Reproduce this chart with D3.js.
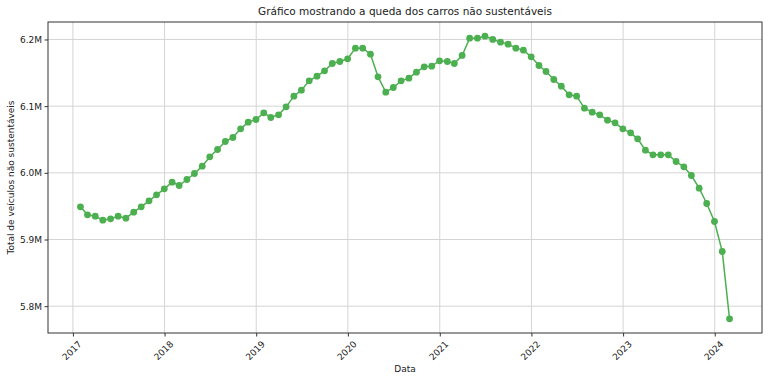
<!DOCTYPE html>
<html>
<head>
<meta charset="utf-8">
<script src="https://cdn.jsdelivr.net/npm/d3@7"></script>
<style>
  body { margin: 0; background: #fff; }
  svg text { font-family: "DejaVu Sans", sans-serif; fill: #222; }
</style>
</head>
<body>
<svg id="chart" width="768" height="381"></svg>
<script>
// monthly totals (millions), month-end dates Jan 2017 .. Feb 2024
const totals = [
  5.949, 5.937, 5.935, 5.929, 5.931, 5.935, 5.932, 5.941, 5.949, 5.958, 5.967, 5.976,
  5.986, 5.981, 5.990, 5.999, 6.010, 6.024, 6.035, 6.047, 6.053, 6.066, 6.076, 6.080,
  6.090, 6.083, 6.087, 6.099, 6.115, 6.124, 6.138, 6.145, 6.153, 6.164, 6.167, 6.171,
  6.187, 6.187, 6.178, 6.144, 6.121, 6.128, 6.138, 6.142, 6.151, 6.159, 6.160, 6.168,
  6.167, 6.164, 6.176, 6.202, 6.202, 6.205, 6.200, 6.196, 6.193, 6.187, 6.184, 6.174,
  6.161, 6.152, 6.140, 6.130, 6.117, 6.115, 6.097, 6.091, 6.087, 6.079, 6.075, 6.066,
  6.060, 6.051, 6.034, 6.027, 6.027, 6.027, 6.017, 6.009, 5.996, 5.977, 5.954, 5.927,
  5.882, 5.781
];
const yTicks = [5.8, 5.9, 6.0, 6.1, 6.2];
const xTickYears = [2017, 2018, 2019, 2020, 2021, 2022, 2023, 2024];

// month end dates
const data = totals.map((v, i) => ({
  date: new Date(2017, i + 1, 0),
  value: v
}));

const mLeft = 48, mRight = 762, mTop = 22, mBottom = 333;

const ext = d3.extent(data, d => d.date);
const span = ext[1] - ext[0];
const xScale = d3.scaleTime()
  .domain([new Date(+ext[0] - span * 0.05), new Date(+ext[1] + span * 0.05)])
  .range([mLeft, mRight]);
const yExt = d3.extent(data, d => d.value);
const ySpan = yExt[1] - yExt[0];
const yScale = d3.scaleLinear()
  .domain([yExt[0] - ySpan * 0.05, yExt[1] + ySpan * 0.05])
  .range([mBottom, mTop]);

const svg = d3.select('#chart');

// grid
const xTicks = xTickYears.map(y => new Date(y, 0, 1));
svg.append('g').selectAll('line').data(xTicks).join('line')
  .attr('x1', d => xScale(d)).attr('x2', d => xScale(d))
  .attr('y1', mTop).attr('y2', mBottom)
  .attr('stroke', '#d4d4d4').attr('stroke-width', 1);
svg.append('g').selectAll('line').data(yTicks).join('line')
  .attr('x1', mLeft).attr('x2', mRight)
  .attr('y1', d => yScale(d)).attr('y2', d => yScale(d))
  .attr('stroke', '#d4d4d4').attr('stroke-width', 1);

// axes
const xAxis = d3.axisBottom(xScale).tickValues(xTicks).tickSize(3.5).tickFormat(d3.timeFormat('%Y'));
const yAxis = d3.axisLeft(yScale).tickValues(yTicks).tickSize(3.5).tickFormat(d => d.toFixed(1) + 'M');

const gx = svg.append('g').attr('transform', `translate(0,${mBottom})`).call(xAxis);
gx.select('.domain').remove();
gx.selectAll('.tick line').attr('stroke', '#333');
gx.selectAll('.tick text')
  .attr('font-size', 9)
  .attr('text-anchor', 'middle')
  .attr('dy', null)
  .attr('y', 0)
  .attr('transform', 'translate(-1,18) rotate(-45)')
  .attr('dominant-baseline', 'middle');

const gy = svg.append('g').attr('transform', `translate(${mLeft},0)`).call(yAxis);
gy.select('.domain').remove();
gy.selectAll('.tick line').attr('stroke', '#333');
gy.selectAll('.tick text').attr('font-size', 9).attr('x', -6);

// frame
svg.append('rect')
  .attr('x', mLeft).attr('y', mTop)
  .attr('width', mRight - mLeft).attr('height', mBottom - mTop)
  .attr('fill', 'none').attr('stroke', '#333').attr('stroke-width', 1);

// line + markers
const line = d3.line().x(d => xScale(d.date)).y(d => yScale(d.value));
svg.append('path').datum(data)
  .attr('d', line)
  .attr('fill', 'none')
  .attr('stroke', '#4caf50')
  .attr('stroke-width', 1.5);
svg.append('g').selectAll('circle').data(data).join('circle')
  .attr('cx', d => xScale(d.date))
  .attr('cy', d => yScale(d.value))
  .attr('r', 3.4)
  .attr('fill', '#4caf50');

// labels
svg.append('text')
  .attr('x', (mLeft + mRight) / 2).attr('y', 15)
  .attr('text-anchor', 'middle').attr('font-size', 10.5)
  .text('Gráfico mostrando a queda dos carros não sustentáveis');
svg.append('text')
  .attr('x', (mLeft + mRight) / 2).attr('y', 372)
  .attr('text-anchor', 'middle').attr('font-size', 9)
  .text('Data');
svg.append('text')
  .attr('transform', `translate(14,${(mTop + mBottom) / 2}) rotate(-90)`)
  .attr('text-anchor', 'middle').attr('font-size', 9)
  .text('Total de veículos não sustentáveis');
</script>
</body>
</html>
